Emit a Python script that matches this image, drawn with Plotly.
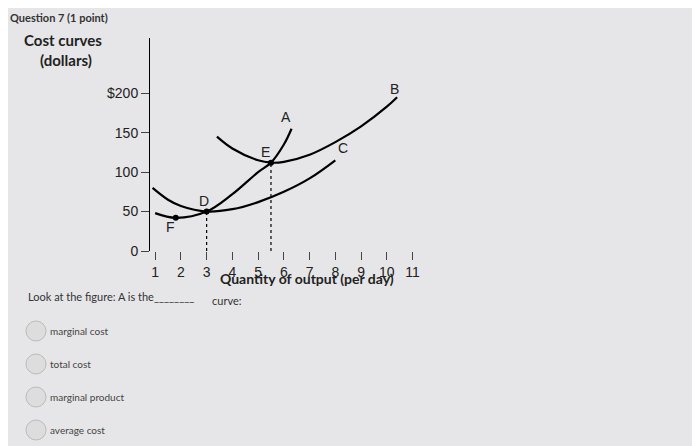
import plotly.graph_objects as go

mc_x = [1.0, 1.8, 3.0, 4.0, 5.0, 5.5, 6.0, 6.3]
mc_y = [48, 42, 50, 72, 100, 112, 135, 155]
avc_x = [0.9, 1.5, 2.0, 3.0, 4.0, 5.0, 6.0, 7.0, 8.0]
avc_y = [80, 65, 57, 50, 53, 62, 75, 92, 115]
atc_x = [3.4, 4.0, 5.0, 5.5, 6.0, 7.0, 8.0, 9.0, 10.0, 10.4]
atc_y = [145, 130, 115, 112, 113, 122, 138, 158, 183, 195]
pts_x = [1.8, 3.0, 5.5]
pts_y = [42, 50, 112]
xticks = list(range(1, 12))
yticks = [0, 50, 100, 150, 200]
ylabels = ["0", "50", "100", "150", "$200"]

L, R, T, B = 142, 280, 30, 203
PW, PH = 700 - L - R, 446 - T - B

fig = go.Figure()
for xs, ys in [(mc_x, mc_y), (avc_x, avc_y), (atc_x, atc_y)]:
    fig.add_trace(go.Scatter(x=xs, y=ys, mode="lines", line=dict(color="black", width=2.2, shape="spline"), showlegend=False, hoverinfo="skip"))
for px, py in zip(pts_x[1:], pts_y[1:]):
    fig.add_trace(go.Scatter(x=[px, px], y=[0, py], mode="lines", line=dict(color="black", width=1.2, dash="dot"), showlegend=False))
fig.add_trace(go.Scatter(x=pts_x, y=pts_y, mode="markers", marker=dict(color="black", size=6), showlegend=False))

labels = [("A", 6.1, 170), ("B", 10.3, 205), ("C", 8.3, 130), ("D", 2.9, 63), ("E", 5.3, 125), ("F", 1.6, 30)]
for t, x, y in labels:
    fig.add_annotation(x=x, y=y, text=t, showarrow=False, font=dict(size=14, family="Liberation Sans", color="#222"))

def px2p(x, y):
    return (x - L) / PW, (446 - B - y) / PH

def ptext(x, y, t, size=12, color="#333", bold=False):
    a, b = px2p(x, y)
    fig.add_annotation(xref="paper", yref="paper", x=a, y=b, text=("<b>%s</b>" % t) if bold else t,
                       showarrow=False, xanchor="left", yanchor="middle", font=dict(size=size, color=color, family="Lato"))

fig.update_layout(
    width=700, height=446, paper_bgcolor="#e6e6e8", plot_bgcolor="rgba(0,0,0,0)",
    margin=dict(l=L, r=R, t=T, b=B),
    xaxis=dict(range=[0.8, 11.6], tickvals=xticks, ticks="outside", ticklen=8, showgrid=False, zeroline=False,
               showline=False, tickfont=dict(size=14, family="Liberation Sans", color="#222")),
    yaxis=dict(range=[0, 270], tickvals=yticks, ticktext=ylabels, ticks="outside", ticklen=8, showgrid=False,
               zeroline=False, showline=True, linecolor="black", tickfont=dict(size=14, family="Liberation Sans", color="#222")),
)
ptext(0, 10, "Question 7 (1 point)", 11, "#333", True)
ptext(14, 32, "Cost curves", 15, "#222", True)
ptext(30, 52, "(dollars)", 15, "#222", True)
ptext(210, 270, "Quantity of output (per day)", 14, "#222", True)
ptext(18, 288, "Look at the figure: A is the________", 11, "#333")
ptext(202, 292, "curve:", 11, "#333")
opts = ["marginal cost", "total cost", "marginal product", "average cost"]
ys = [323, 356, 389, 422]
for t, y in zip(opts, ys):
    ptext(40, y, t, 10, "#444")
    a0, b0 = px2p(18, y + 10)
    a1, b1 = px2p(38, y - 10)
    fig.add_shape(type="circle", xref="paper", yref="paper", x0=a0, x1=a1, y0=b0, y1=b1,
                  line=dict(color="#bbb", width=1), fillcolor="#ddd")
fig.write_html("out.html")
